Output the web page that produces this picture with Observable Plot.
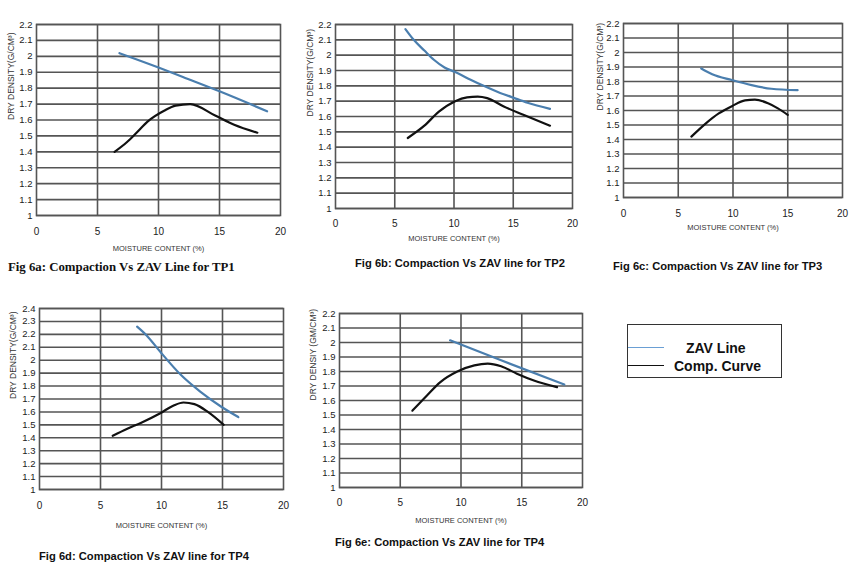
<!DOCTYPE html>
<html>
<head>
<meta charset="utf-8">
<script src="https://cdn.jsdelivr.net/npm/d3@7"></script>
<script src="https://cdn.jsdelivr.net/npm/@observablehq/plot@0.6"></script>
<style>
  html, body { margin: 0; padding: 0; background: #fff; }
  #root { position: relative; width: 850px; height: 568px; overflow: hidden; background: #fff; }
  .panel { position: absolute; }
  .cap { position: absolute; white-space: nowrap; color: #111; font-weight: bold; line-height: 1; transform: translateY(-50%); }
  .serif { font-family: "Liberation Serif", "Times New Roman", serif; font-size: 12.8px; }
  .sans { font-family: "Liberation Sans", Arial, sans-serif; font-size: 11.2px; }
  #legend { position: absolute; left: 627px; top: 324px; width: 155px; height: 54px; border: 1.5px solid #333; box-sizing: border-box; }
  #legend .item { position: absolute; font-family: "Liberation Sans", Arial, sans-serif; font-weight: bold; font-size: 14px; color: #111; white-space: nowrap; transform: translateY(-50%); }
  #legend .sw { position: absolute; left: 0; width: 36px; height: 0; }
  g[aria-label="y-title"] text { letter-spacing: 1.3px; }
</style>
</head>
<body>
<div id="root"></div>
<script>
// ---------- data ----------
const xTicks = [0, 5, 10, 15, 20];
const yTicks22 = [1, 1.1, 1.2, 1.3, 1.4, 1.5, 1.6, 1.7, 1.8, 1.9, 2, 2.1, 2.2];
const yTicks24 = [1, 1.1, 1.2, 1.3, 1.4, 1.5, 1.6, 1.7, 1.8, 1.9, 2, 2.1, 2.2, 2.3, 2.4];

// [moisture content %, dry density g/cm3]
const tp1Zav  = [[6.8, 2.02], [10, 1.93], [12, 1.87], [15, 1.78], [18.9, 1.655]];
const tp1Comp = [[6.4, 1.40], [7.4, 1.46], [8.2, 1.52], [9.1, 1.59], [10.5, 1.66], [11.4, 1.69], [12.6, 1.70], [14.6, 1.63], [16.2, 1.57], [18.1, 1.52]];

const tp2Zav  = [[5.9, 2.17], [6.6, 2.10], [7.5, 2.03], [8.3, 1.97], [9.2, 1.92], [10.1, 1.89], [11.4, 1.84], [12.5, 1.80], [13.7, 1.76], [15.1, 1.72], [16.2, 1.69], [18.1, 1.65]];
const tp2Comp = [[6.1, 1.46], [7.5, 1.54], [8.7, 1.63], [10.1, 1.70], [11.1, 1.725], [12.0, 1.73], [12.8, 1.72], [14.2, 1.665], [15.9, 1.61], [18.1, 1.54]];

const tp3Zav  = [[7.1, 1.89], [8.1, 1.85], [9.9, 1.81], [11.7, 1.775], [13.5, 1.75], [15.9, 1.74]];
const tp3Comp = [[6.2, 1.42], [7.5, 1.51], [8.7, 1.58], [9.9, 1.63], [11.1, 1.67], [12.0, 1.675], [13.2, 1.65], [14.1, 1.615], [15.0, 1.57]];

const tp4dZav  = [[8.0, 2.26], [8.8, 2.19], [9.9, 2.065], [11.6, 1.885], [13.2, 1.755], [14.9, 1.64], [16.3, 1.56]];
const tp4dComp = [[6.0, 1.415], [7.2, 1.47], [8.3, 1.515], [9.9, 1.59], [11.0, 1.65], [11.8, 1.673], [12.7, 1.66], [13.8, 1.60], [15.1, 1.50]];

const tp4eZav  = [[9.1, 2.015], [13.3, 1.877], [18.5, 1.71]];
const tp4eComp = [[6.0, 1.53], [7.2, 1.635], [8.3, 1.727], [9.7, 1.80], [11.1, 1.842], [12.2, 1.854], [13.3, 1.836], [14.6, 1.785], [16.0, 1.738], [17.9, 1.692]];

const xTitle = "MOISTURE CONTENT (%)";
const yTitleA = "DRY DENSITY(G/CM³)";
const yTitleE = "DRY DENSIY (GM/CM³)";

const captions = [
  "Fig 6a: Compaction Vs ZAV Line for TP1",
  "Fig 6b: Compaction Vs ZAV line for TP2",
  "Fig 6c: Compaction Vs ZAV line for TP3",
  "Fig 6d: Compaction Vs ZAV line for TP4",
  "Fig 6e: Compaction Vs ZAV line for TP4"
];
const legendLabels = ["ZAV Line", "Comp. Curve"];

// ---------- styles / layout ----------
const ZAV_COLOR = "#4a7eae";
const COMP_COLOR = "#111111";
const GRID_COLOR = "#555555";
const sansFont = '"Liberation Sans", Arial, sans-serif';

const panels = [
  {zav: tp1Zav, comp: tp1Comp, yTicks: yTicks22, ymax: 2.2, yTitle: yTitleA,
   box: {left: 0, top: 0, w: 288, h: 258}, frame: {x0: 36, x1: 280, y0: 24, y1: 215},
   tickPad: 12, xTitleDy: 35, yTitleDx: -25,
   cap: {x: 8, y: 267, cls: "serif"}},
  {zav: tp2Zav, comp: tp2Comp, yTicks: yTicks22, ymax: 2.2, yTitle: yTitleA,
   box: {left: 290, top: 0, w: 292, h: 250}, frame: {x0: 335, x1: 572, y0: 24, y1: 208},
   tickPad: 11, xTitleDy: 32, yTitleDx: -25,
   cap: {x: 355, y: 264, cls: "sans"}},
  {zav: tp3Zav, comp: tp3Comp, yTicks: yTicks22, ymax: 2.2, yTitle: yTitleA,
   box: {left: 582, top: 0, w: 268, h: 240}, frame: {x0: 623, x1: 842, y0: 23, y1: 197},
   tickPad: 12, xTitleDy: 32, yTitleDx: -23,
   cap: {x: 613, y: 267, cls: "sans"}},
  {zav: tp4dZav, comp: tp4dComp, yTicks: yTicks24, ymax: 2.4, yTitle: yTitleA,
   box: {left: 0, top: 290, w: 295, h: 245}, frame: {x0: 39, x1: 283, y0: 308, y1: 489},
   tickPad: 12, xTitleDy: 38, yTitleDx: -26,
   cap: {x: 39, y: 557, cls: "sans"}},
  {zav: tp4eZav, comp: tp4eComp, yTicks: yTicks22, ymax: 2.2, yTitle: yTitleE,
   box: {left: 300, top: 290, w: 300, h: 240}, frame: {x0: 339, x1: 582, y0: 313, y1: 487},
   tickPad: 11, xTitleDy: 35, yTitleDx: -26,
   cap: {x: 335, y: 543, cls: "sans"}}
];

const root = document.getElementById("root");
const fmt = d => String(+d.toFixed(1));

panels.forEach((p, i) => {
  const b = p.box, f = p.frame;
  const chart = Plot.plot({
    width: b.w,
    height: b.h,
    marginLeft: f.x0 - b.left,
    marginRight: b.left + b.w - f.x1,
    marginTop: f.y0 - b.top,
    marginBottom: b.top + b.h - f.y1,
    style: {fontFamily: sansFont, fontSize: "10px", color: "#222", background: "transparent", overflow: "visible"},
    x: {domain: [0, 20]},
    y: {domain: [1, p.ymax]},
    marks: [
      Plot.gridY(p.yTicks, {stroke: GRID_COLOR, strokeOpacity: 1, strokeWidth: 1.6}),
      Plot.gridX(xTicks.slice(1, -1), {stroke: GRID_COLOR, strokeOpacity: 1, strokeWidth: 1.6}),
      Plot.frame({stroke: GRID_COLOR, strokeWidth: 1.6}),
      Plot.axisY(p.yTicks, {tickSize: 0, tickPadding: 4, tickFormat: fmt, label: null, fontSize: 9.5}),
      Plot.axisX(xTicks, {tickSize: 0, tickPadding: p.tickPad, label: null, fontSize: 10}),
      Plot.text([xTitle], {frameAnchor: "bottom", dy: p.xTitleDy, text: d => d, fontSize: 7.5, fill: "#333"}),
      Plot.text([p.yTitle], {frameAnchor: "left", dx: p.yTitleDx, rotate: -90, text: d => d, fontSize: 8.5, fill: "#333",
        ariaLabel: "y-title"}),
      Plot.line(p.zav, {x: d => d[0], y: d => d[1], stroke: ZAV_COLOR, strokeWidth: 2.2, curve: "monotone-x"}),
      Plot.line(p.comp, {x: d => d[0], y: d => d[1], stroke: COMP_COLOR, strokeWidth: 2.2, curve: "monotone-x"})
    ]
  });
  const wrap = document.createElement("div");
  wrap.className = "panel";
  wrap.style.left = b.left + "px";
  wrap.style.top = b.top + "px";
  wrap.appendChild(chart);
  root.appendChild(wrap);

  const cap = document.createElement("div");
  cap.className = "cap " + p.cap.cls;
  cap.style.left = p.cap.x + "px";
  cap.style.top = p.cap.y + "px";
  cap.textContent = captions[i];
  root.appendChild(cap);
});

// legend
const legend = document.createElement("div");
legend.id = "legend";
const legendItems = [
  {label: legendLabels[0], color: "#6a9fd4", y: 23, tx: 58},
  {label: legendLabels[1], color: "#111", y: 41, tx: 46}
];
legendItems.forEach(it => {
  const sw = document.createElement("div");
  sw.className = "sw";
  sw.style.top = (it.y - 1) + "px";
  sw.style.borderTop = "1.6px solid " + it.color;
  legend.appendChild(sw);
  const t = document.createElement("div");
  t.className = "item";
  t.style.left = it.tx + "px";
  t.style.top = it.y + "px";
  t.textContent = it.label;
  legend.appendChild(t);
});
root.appendChild(legend);
</script>
</body>
</html>
